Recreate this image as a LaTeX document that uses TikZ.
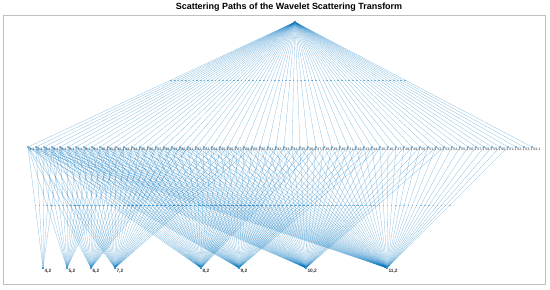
\documentclass[tikz,border=0pt]{standalone}
\usepackage{fontspec}
\setmainfont{Liberation Sans}
\usetikzlibrary{calc,backgrounds}
\definecolor{mblue}{RGB}{0,114,189}
\begin{document}
\begin{tikzpicture}[x=1bp,y=-1bp,
  edge/.style={draw=mblue, draw opacity=0.45, line width=0.3bp},
  kinkmark/.style={draw=mblue, draw opacity=0.5, line width=0.6bp},
  vtx/.style={circle, fill=mblue, inner sep=0pt, minimum size=1.8bp},
  lab/.style={font=\fontsize{3.6}{4}\selectfont, text=black!80, inner sep=0.3bp, anchor=north west},
  blab/.style={font=\bfseries\fontsize{4.8}{5}\selectfont, text=black!80, inner sep=0.4bp, anchor=north west}]
\useasboundingbox (0,0) rectangle (550,289);
\node[font=\bfseries\fontsize{9}{10}\selectfont] (title) at (289,7.5) {Scattering Paths of the Wavelet Scattering Transform};
\draw[black!25, line width=1bp] (3,15) rectangle (545,284);
% root
\node[vtx, minimum size=2.4bp, fill=mblue!70!black] (r) at (295,22) {};
% first-order nodes
\foreach \i in {1,...,64} {
  \pgfmathsetmacro\xx{28+8*(\i-1)}
  \node[vtx] (m\i) at (\xx,147) {};
  \node[lab] (ml\i) at (m\i.south east) {\i,1};
}
% second-order nodes
\foreach \k/\xx in {4/43,5/67,6/91,7/115,8/201,9/239,10/306,11/387} {
  \node[vtx, minimum size=2.2bp] (b\k) at (\xx,268) {};
  \node[blab] (bl\k) at (b\k.south east) {\k,2};
}
\begin{scope}[on background layer]
  \foreach \i in {1,...,64} {
    \draw[edge] (r) -- (m\i);
    \coordinate (q) at ($(r)!0.464!(m\i)$);
    \draw[kinkmark] ($(q)+(-0.8,0)$) -- ($(q)+(0.8,0)$);
  }
  \foreach \k in {4,...,11} {
    \pgfmathtruncatemacro\mm{8*\k-27}
    \foreach \i in {1,...,\mm} {
      \draw[edge] (m\i) -- (b\k);
      \coordinate (q) at ($(m\i)!0.48!(b\k)$);
      \draw[kinkmark, draw opacity=0.4] ($(q)+(-0.7,0)$) -- ($(q)+(0.7,0)$);
    }
  }
\end{scope}
\end{tikzpicture}
\end{document}
